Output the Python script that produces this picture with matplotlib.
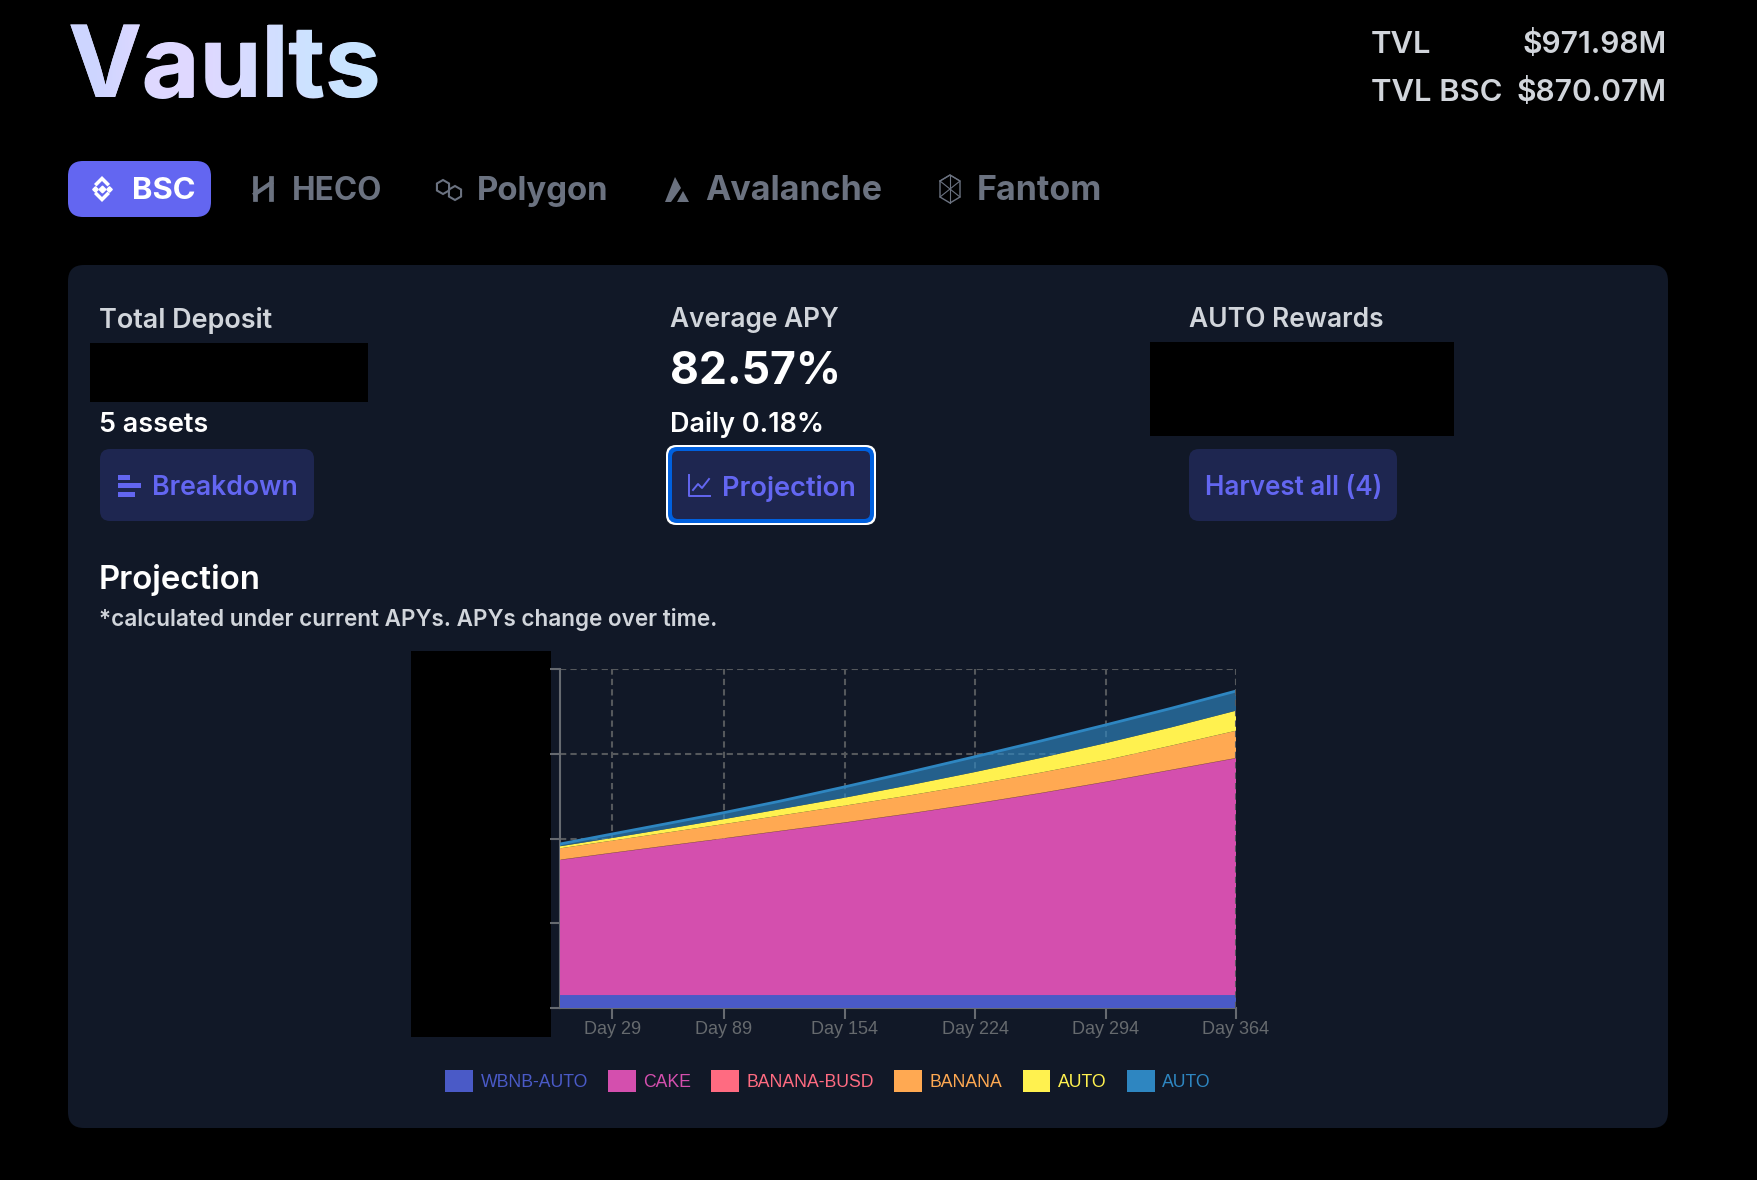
import numpy as np
import matplotlib
matplotlib.use("Agg")
import matplotlib.pyplot as plt
from matplotlib.patches import FancyBboxPatch, Rectangle, Polygon, Patch, PathPatch
from matplotlib.textpath import TextPath
from matplotlib.font_manager import FontProperties
from matplotlib.transforms import Affine2D

W, H = 1758, 1180
DPI = 100

days = [1, 29, 59, 89, 119, 154, 189, 224, 259, 294, 329, 364]
day_labels = ["Day 29", "Day 89", "Day 154", "Day 224", "Day 294", "Day 364"]
tick_days = [29, 89, 154, 224, 294, 364]

wbnb_auto = [0.153] * 12
cake = [1.593, 1.675, 1.761, 1.846, 1.933, 2.033, 2.140, 2.256, 2.380, 2.513, 2.653, 2.793]
banana_busd = [0.004] * 12
banana = [0.134, 0.143, 0.154, 0.167, 0.180, 0.198, 0.213, 0.227, 0.240, 0.255, 0.285, 0.322]
auto_yellow = [0.024, 0.031, 0.043, 0.058, 0.075, 0.094, 0.120, 0.145, 0.173, 0.200, 0.215, 0.236]
auto_blue = [0.027, 0.047, 0.063, 0.077, 0.095, 0.128, 0.155, 0.181, 0.200, 0.215, 0.225, 0.232]

series_names = ["WBNB-AUTO", "CAKE", "BANANA-BUSD", "BANANA", "AUTO", "AUTO"]
series_colors = ["#4a5ac7", "#d44fae", "#ff6b81", "#ffa952", "#fff14f", "#2e86c1"]

SANS = "Inter"
PANEL = "#111827"
BTN = "#1e2650"
INDIGO = "#6366f1"
GRAY = "#6b7280"
LIGHT = "#d1d5db"


def px(size):
    return size * 72 / DPI


fig = plt.figure(figsize=(W / DPI, H / DPI), dpi=DPI, facecolor="black")
ui = fig.add_axes([0, 0, 1, 1], zorder=0)
ui.axis("off")


def box(x0, y0, x1, y1, r, color, z=1):
    ui.add_patch(FancyBboxPatch((x0, y0), x1 - x0, y1 - y0, boxstyle=f"round,pad=0,rounding_size={r}",
                                fc=color, ec="none", zorder=z))


def label(x, y, s, size, color=LIGHT, weight="semibold", ha="left"):
    ui.text(x, y, s, fontsize=px(size), color=color, fontweight=weight, family=SANS, ha=ha, va="center_baseline", zorder=5)


# heading with the gradient laid over the real text
ui.text(69, 98, "Vaults", fontsize=px(99.5), color="#d8dcff", fontweight="bold", family=SANS, va="baseline", zorder=4)
path = TextPath((0, 0), "Vaults", size=99.5, prop=FontProperties(family=SANS, weight="bold"))
clip = PathPatch(path, transform=Affine2D().scale(1, -1).translate(69, 98) + ui.transData, fc="none", ec="none")
ui.add_patch(clip)
grad = np.array([[[205, 213, 255], [222, 216, 255], [224, 216, 255], [214, 220, 255], [205, 226, 255], [200, 228, 255]]],
                dtype=np.uint8)
img = ui.imshow(grad, extent=(69, 385, 102, 22), aspect="auto", interpolation="bilinear", zorder=4.5)
img.set_clip_path(clip)
ui.set_xlim(1, W + 1)
ui.set_ylim(H + 1, 1)

# top right totals
label(1372, 43, "TVL", 31)
label(1372, 91, "TVL BSC", 31)
label(1668, 43, "$971.98M", 30, ha="right")
label(1668, 91, "$870.07M", 30, ha="right")

# tabs
box(69, 162, 212, 218, 15, INDIGO)
label(133, 189, "BSC", 31, "white", "bold")
label(293, 189, "HECO", 31.5, GRAY, "bold")
label(478, 189, "Polygon", 33, GRAY, "bold")
label(706, 189, "Avalanche", 34, GRAY, "bold")
label(978, 189, "Fantom", 34, GRAY, "bold")

# tab icons
ui.plot([96, 110], [190, 190], ls="none", marker="D", ms=2.8, color="white", zorder=5)
ui.plot([103], [190], ls="none", marker="D", ms=3.4, color="white", zorder=5)
ui.add_patch(Polygon([[103, 177], [111, 185], [108.5, 187.5], [103, 182], [97.5, 187.5], [95, 185]], fc="white", ec="none", zorder=5))
ui.add_patch(Polygon([[103, 203], [111, 195], [108.5, 192.5], [103, 198], [97.5, 192.5], [95, 195]], fc="white", ec="none", zorder=5))
ui.plot([256, 256], [179, 200], color=GRAY, lw=3.4, zorder=5)
ui.plot([272, 272], [179, 200], color=GRAY, lw=3.4, zorder=5)
ui.plot([256, 272], [195, 184], color=GRAY, lw=3, zorder=5)
for cx, cy in [(444, 188), (456, 194)]:
    a = np.deg2rad(np.arange(30, 390, 60))
    ui.add_patch(Polygon(np.c_[cx + 7 * np.cos(a), cy + 7 * np.sin(a)], fc="none", ec=GRAY, lw=1.5, zorder=5))
ui.add_patch(Polygon([[676, 178], [682, 189], [672, 203], [666, 203]], fc=GRAY, ec="none", zorder=5))
ui.add_patch(Polygon([[684, 192], [690, 203], [678, 203]], fc=GRAY, ec="none", zorder=5))
ui.add_patch(Polygon([[951, 176], [961, 182], [961, 198], [951, 204], [941, 198], [941, 182]], fc="none", ec=GRAY, lw=1, zorder=5))
ui.plot([941, 951, 961, 951, 941], [182, 190, 182, 176, 182], color=GRAY, lw=0.8, zorder=5)
ui.plot([941, 951, 961], [198, 190, 198], color=GRAY, lw=0.8, zorder=5)
ui.plot([951, 951], [176, 204], color=GRAY, lw=0.8, zorder=5)

# main panel
box(69, 266, 1669, 1129, 16, PANEL)

label(100, 318, "Total Deposit", 27)
label(671, 318, "Average APY", 26.3)
label(1190, 318, "AUTO Rewards", 26.4)
label(671, 368, "82.57%", 44.5, "white", "bold")
label(100, 423, "5 assets", 27, "white")
label(671, 423, "Daily 0.18%", 27, "white")

# buttons
box(101, 450, 315, 522, 10, BTN)
box(667, 446, 877, 526, 10, "white")
box(669, 448, 875, 524, 9, "#0060df")
box(673, 452, 871, 520, 6, BTN)
box(1190, 450, 1398, 522, 10, BTN)
label(153, 486, "Breakdown", 26.7, INDIGO)
label(723, 486, "Projection", 27.3, INDIGO)
label(1206, 486, "Harvest all (4)", 26, INDIGO)
for bx0, bx1, by in [(119, 131, 478), (119, 142, 486.5), (119, 136, 495)]:
    ui.add_patch(Rectangle((bx0, by - 2.5), bx1 - bx0, 5, fc=INDIGO, ec="none", zorder=5))
ui.plot([690, 690, 711], [476, 497, 497], color=INDIGO, lw=1.4, zorder=5)
ui.plot([694, 699, 703, 710], [491, 485, 489, 480], color=INDIGO, lw=1.4, zorder=5)

label(100, 577, "Projection", 33, "white")
label(100, 618, "*calculated under current APYs. APYs change over time.", 22.5)

# redacted blocks
ui.add_patch(Rectangle((91, 344), 278, 59, fc="black", ec="none", zorder=6))
ui.add_patch(Rectangle((1151, 343), 304, 94, fc="black", ec="none", zorder=6))
ui.add_patch(Rectangle((412, 652), 140, 386, fc="black", ec="none", zorder=6))

# projection chart
left, right, top, bottom = 560, 1236, 669, 1008
ax = fig.add_axes([left / W, 1 - bottom / H, (right - left) / W, (bottom - top) / H], zorder=1)
ax.patch.set_alpha(0)
ax.set_xlim(1, 364)
ax.set_ylim(0, 4)

stack = [wbnb_auto, cake, banana_busd, banana, auto_yellow, auto_blue]
polys = ax.stackplot(days, stack, colors=series_colors, linewidth=0, zorder=3)
polys[-1].set_alpha(0.66)
ax.plot(days, np.sum(stack, axis=0), color=series_colors[-1], lw=2, zorder=4, solid_capstyle="butt")

GRID = "#55585c"
ax.set_xticks(tick_days, day_labels)
ax.set_yticks([0, 1, 2, 3, 4], [])
ax.grid(True, color=GRID, lw=1.5, ls=(0, (3, 2)), zorder=1)
ax.axvline(364, color=GRID, lw=1.5, ls=(0, (3, 2)), zorder=5)
ax.set_axisbelow(True)
for side in ["top", "right"]:
    ax.spines[side].set_visible(False)
for side in ["left", "bottom"]:
    ax.spines[side].set_color("#666a70")
    ax.spines[side].set_linewidth(1.5)
ax.tick_params(axis="x", length=8, width=1.5, color="#666a70", labelcolor="#666a6e", labelsize=px(18), pad=1)
ax.tick_params(axis="y", length=7, width=1.5, color="#666a70")
for t in ax.get_xticklabels():
    t.set_family("Liberation Sans")

handles = [Patch(fc=c, ec="none") for c in series_colors]
leg = ax.legend(handles, series_names, ncol=6, loc="center", bbox_to_anchor=(828 / W, 1 - 1081 / H),
                bbox_transform=fig.transFigure, frameon=False, prop={"family": "Liberation Sans", "size": px(17.6)},
                handlelength=1.59, handleheight=1.46, handletextpad=0.43, columnspacing=1.13, borderpad=0, borderaxespad=0)
for t, c in zip(leg.get_texts(), series_colors):
    t.set_color(c)

fig.savefig("out.png", dpi=DPI, facecolor="black")
